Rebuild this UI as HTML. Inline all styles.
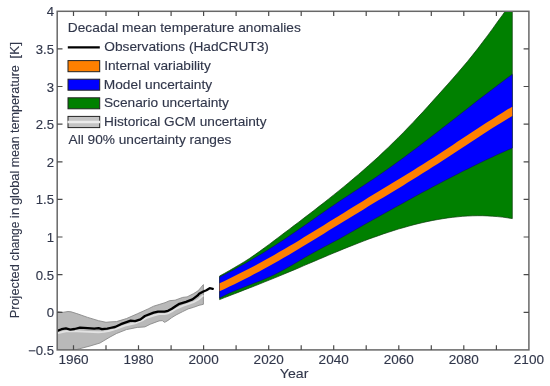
<!DOCTYPE html>
<html><head><meta charset="utf-8"><title>Decadal mean temperature anomalies</title>
<style>html,body{margin:0;padding:0;background:#fff}</style></head>
<body>
<svg width="550" height="386" viewBox="0 0 550 386" style="display:block;font-family:'Liberation Sans',sans-serif">
<style>text{stroke:#30364a;stroke-width:0.12px;paint-order:stroke}</style>
<rect width="550" height="386" fill="#fff"/>
<defs><clipPath id="c"><rect x="57.2" y="11.3" width="471.7" height="338.6"/></clipPath></defs>
<g clip-path="url(#c)">
<polygon points="56.8,311.5 62.6,312.4 68.0,311.5 71.0,311.8 76.8,313.6 87.7,317.4 98.6,320.7 106.0,322.3 110.0,321.9 116.5,321.6 126.4,318.6 137.3,313.8 148.2,308.9 153.6,306.2 159.1,304.5 165.0,302.7 169.6,300.7 175.1,300.2 182.7,297.4 187.1,296.9 193.6,293.6 198.0,290.9 203.4,284.6 203.4,304.3 199.1,305.3 193.6,307.3 188.2,308.9 182.7,311.6 176.0,315.0 171.8,317.6 168.0,320.4 165.3,322.0 164.5,322.3 162.3,320.6 159.1,320.9 150.3,324.2 144.9,326.9 137.3,327.4 126.4,329.6 116.5,333.5 110.0,337.0 100.0,343.0 90.0,346.0 76.0,349.7 56.8,352.0" fill="#b9b9b9" stroke="#8a8a8a" stroke-width="0.9"/>
<polyline points="57.0,333.0 66.0,331.0 77.0,331.0 88.0,331.6 98.6,332.0 104.0,331.6 109.5,330.5 116.0,328.5 125.0,325.2 135.0,323.0 142.7,319.8 146.0,317.8 153.6,315.2 159.0,313.8 164.5,313.8 168.0,313.0 171.8,311.0 177.0,308.0 182.7,305.6 193.6,301.8 198.0,299.5 203.4,295.0" fill="none" stroke="#e2e2e2" stroke-width="1.9" transform="translate(0,0.3)"/>
<polyline points="57.2,331.0 61.5,329.2 65.9,328.4 70.3,329.7 74.6,329.0 80.0,327.6 87.7,328.1 94.3,328.6 98.6,328.1 101.9,329.2 107.3,328.6 110.0,328.0 115.0,327.0 120.9,324.2 130.7,320.6 135.1,321.2 140.5,319.3 144.9,316.0 153.6,312.7 158.0,311.6 164.5,311.7 168.0,310.8 171.8,308.8 175.5,306.2 179.4,303.8 186.0,301.8 192.5,299.4 197.7,295.4 199.1,293.8 203.4,291.5 206.4,290.2 209.7,288.2 212.8,288.8" fill="none" stroke="#000" stroke-width="2.3" stroke-linejoin="round" stroke-linecap="round"/>
<polygon points="219.6,276.0 224.6,273.3 229.5,270.5 234.5,267.6 239.4,264.7 244.4,261.7 249.4,258.5 254.3,255.1 259.3,251.6 264.2,248.0 269.2,244.4 274.2,240.6 279.1,236.9 284.1,233.1 289.1,229.4 294.0,225.6 299.0,221.9 303.9,218.1 308.9,214.3 313.9,210.5 318.8,206.6 323.8,202.8 328.7,198.9 333.7,194.9 338.7,190.9 343.6,186.9 348.6,182.8 353.5,178.6 358.5,174.4 363.5,170.1 368.4,165.7 373.4,161.3 378.4,156.8 383.3,152.1 388.3,147.4 393.2,142.6 398.2,137.7 403.2,132.7 408.1,127.6 413.1,122.4 418.0,117.1 423.0,111.8 428.0,106.3 432.9,100.8 437.9,95.3 442.8,89.8 447.8,84.2 452.8,78.6 457.7,72.9 462.7,67.1 467.7,61.2 472.6,55.1 477.6,48.8 482.5,42.3 487.5,35.7 492.5,28.9 497.4,22.0 502.4,15.2 507.3,8.3 512.3,1.5 512.3,218.6 507.3,217.8 502.4,217.1 497.4,216.6 492.5,216.2 487.5,215.9 482.5,215.7 477.6,215.7 472.6,215.8 467.7,216.0 462.7,216.3 457.7,216.8 452.8,217.3 447.8,217.9 442.8,218.7 437.9,219.5 432.9,220.4 428.0,221.4 423.0,222.5 418.0,223.7 413.1,224.9 408.1,226.3 403.2,227.7 398.2,229.1 393.2,230.7 388.3,232.3 383.3,233.9 378.4,235.7 373.4,237.4 368.4,239.2 363.5,241.1 358.5,243.0 353.5,245.0 348.6,246.9 343.6,248.9 338.7,251.0 333.7,253.0 328.7,255.1 323.8,257.2 318.8,259.3 313.9,261.4 308.9,263.5 303.9,265.6 299.0,267.8 294.0,269.9 289.1,271.9 284.1,274.0 279.1,276.1 274.2,278.1 269.2,280.1 264.2,282.1 259.3,284.1 254.3,286.1 249.4,288.0 244.4,289.9 239.4,291.9 234.5,293.8 229.5,295.7 224.6,297.6 219.6,299.6" fill="#008000" stroke="#0a3a0a" stroke-width="0.7"/>
<polygon points="219.6,277.2 224.6,274.6 229.5,272.0 234.5,269.4 239.4,266.6 244.4,263.9 249.4,261.0 254.3,258.1 259.3,255.2 264.2,252.2 269.2,249.1 274.2,245.9 279.1,242.7 284.1,239.5 289.1,236.1 294.0,232.7 299.0,229.3 303.9,225.9 308.9,222.4 313.9,218.9 318.8,215.4 323.8,212.0 328.7,208.6 333.7,205.2 338.7,201.8 343.6,198.5 348.6,195.3 353.5,192.0 358.5,188.8 363.5,185.6 368.4,182.3 373.4,179.0 378.4,175.6 383.3,172.2 388.3,168.7 393.2,165.2 398.2,161.6 403.2,158.0 408.1,154.3 413.1,150.6 418.0,146.9 423.0,143.1 428.0,139.3 432.9,135.5 437.9,131.7 442.8,127.8 447.8,123.9 452.8,120.1 457.7,116.2 462.7,112.3 467.7,108.4 472.6,104.5 477.6,100.6 482.5,96.8 487.5,93.0 492.5,89.2 497.4,85.4 502.4,81.7 507.3,78.0 512.3,74.4 512.3,148.0 507.3,150.2 502.4,152.4 497.4,154.6 492.5,156.9 487.5,159.2 482.5,161.6 477.6,164.0 472.6,166.4 467.7,168.9 462.7,171.3 457.7,173.9 452.8,176.4 447.8,179.0 442.8,181.6 437.9,184.2 432.9,186.8 428.0,189.5 423.0,192.1 418.0,194.8 413.1,197.5 408.1,200.2 403.2,203.0 398.2,205.7 393.2,208.4 388.3,211.2 383.3,213.9 378.4,216.7 373.4,219.5 368.4,222.3 363.5,225.1 358.5,227.9 353.5,230.8 348.6,233.6 343.6,236.4 338.7,239.2 333.7,241.8 328.7,244.5 323.8,247.1 318.8,249.7 313.9,252.4 308.9,255.2 303.9,258.1 299.0,261.0 294.0,263.9 289.1,266.8 284.1,269.6 279.1,272.2 274.2,274.7 269.2,277.0 264.2,279.2 259.3,281.2 254.3,283.1 249.4,285.0 244.4,286.9 239.4,288.9 234.5,290.9 229.5,293.1 224.6,295.4 219.6,298.0" fill="#0000ff" stroke="#101060" stroke-width="0.6"/>
<polygon points="219.6,283.2 224.6,280.9 229.5,278.5 234.5,276.0 239.4,273.5 244.4,271.0 249.4,268.5 254.3,265.9 259.3,263.2 264.2,260.5 269.2,257.8 274.2,255.0 279.1,252.1 284.1,249.3 289.1,246.3 294.0,243.4 299.0,240.4 303.9,237.3 308.9,234.3 313.9,231.3 318.8,228.2 323.8,225.2 328.7,222.1 333.7,219.0 338.7,216.0 343.6,212.9 348.6,209.8 353.5,206.8 358.5,203.7 363.5,200.7 368.4,197.6 373.4,194.6 378.4,191.6 383.3,188.6 388.3,185.6 393.2,182.6 398.2,179.5 403.2,176.5 408.1,173.5 413.1,170.4 418.0,167.3 423.0,164.2 428.0,161.0 432.9,157.9 437.9,154.7 442.8,151.4 447.8,148.2 452.8,144.9 457.7,141.6 462.7,138.3 467.7,135.1 472.6,131.8 477.6,128.5 482.5,125.3 487.5,122.1 492.5,118.9 497.4,115.8 502.4,112.7 507.3,109.6 512.3,106.7 512.3,116.0 507.3,118.9 502.4,122.0 497.4,125.0 492.5,128.1 487.5,131.3 482.5,134.5 477.6,137.7 472.6,140.9 467.7,144.2 462.7,147.4 457.7,150.7 452.8,153.9 447.8,157.2 442.8,160.4 437.9,163.7 432.9,166.8 428.0,170.0 423.0,173.1 418.0,176.2 413.1,179.3 408.1,182.3 403.2,185.4 398.2,188.4 393.2,191.4 388.3,194.4 383.3,197.4 378.4,200.3 373.4,203.3 368.4,206.3 363.5,209.4 358.5,212.4 353.5,215.4 348.6,218.5 343.6,221.5 338.7,224.5 333.7,227.6 328.7,230.6 323.8,233.7 318.8,236.7 313.9,239.8 308.9,242.8 303.9,245.8 299.0,248.8 294.0,251.8 289.1,254.7 284.1,257.6 279.1,260.5 274.2,263.3 269.2,266.1 264.2,268.8 259.3,271.5 254.3,274.1 249.4,276.7 244.4,279.2 239.4,281.7 234.5,284.2 229.5,286.6 224.6,289.0 219.6,291.3" fill="#ff8000"/>
</g>
<rect x="57.2" y="11.3" width="471.7" height="338.6" fill="none" stroke="#686868" stroke-width="1.5"/>
<path d="M73.5 349.9v-4.6M73.5 11.3v4.6M106.0 349.9v-4.6M106.0 11.3v4.6M138.5 349.9v-4.6M138.5 11.3v4.6M171.1 349.9v-4.6M171.1 11.3v4.6M203.6 349.9v-4.6M203.6 11.3v4.6M236.1 349.9v-4.6M236.1 11.3v4.6M268.7 349.9v-4.6M268.7 11.3v4.6M301.2 349.9v-4.6M301.2 11.3v4.6M333.7 349.9v-4.6M333.7 11.3v4.6M366.2 349.9v-4.6M366.2 11.3v4.6M398.8 349.9v-4.6M398.8 11.3v4.6M431.3 349.9v-4.6M431.3 11.3v4.6M463.8 349.9v-4.6M463.8 11.3v4.6M496.4 349.9v-4.6M496.4 11.3v4.6M57.2 312.3h5.3M528.9 312.3h-5.3M57.2 274.7h5.3M528.9 274.7h-5.3M57.2 237.0h5.3M528.9 237.0h-5.3M57.2 199.4h5.3M528.9 199.4h-5.3M57.2 161.8h5.3M528.9 161.8h-5.3M57.2 124.2h5.3M528.9 124.2h-5.3M57.2 86.5h5.3M528.9 86.5h-5.3M57.2 48.9h5.3M528.9 48.9h-5.3" stroke="#4a4a4a" stroke-width="1.2" fill="none"/>
<text x="73.5" y="364.1" font-size="12.3" text-anchor="middle" textLength="30.2" lengthAdjust="spacingAndGlyphs" fill="#30364a">1960</text>
<text x="138.5" y="364.1" font-size="12.3" text-anchor="middle" textLength="30.2" lengthAdjust="spacingAndGlyphs" fill="#30364a">1980</text>
<text x="203.6" y="364.1" font-size="12.3" text-anchor="middle" textLength="30.2" lengthAdjust="spacingAndGlyphs" fill="#30364a">2000</text>
<text x="268.7" y="364.1" font-size="12.3" text-anchor="middle" textLength="30.2" lengthAdjust="spacingAndGlyphs" fill="#30364a">2020</text>
<text x="333.7" y="364.1" font-size="12.3" text-anchor="middle" textLength="30.2" lengthAdjust="spacingAndGlyphs" fill="#30364a">2040</text>
<text x="398.8" y="364.1" font-size="12.3" text-anchor="middle" textLength="30.2" lengthAdjust="spacingAndGlyphs" fill="#30364a">2060</text>
<text x="463.8" y="364.1" font-size="12.3" text-anchor="middle" textLength="30.2" lengthAdjust="spacingAndGlyphs" fill="#30364a">2080</text>
<text x="528.9" y="364.1" font-size="12.3" text-anchor="middle" textLength="30.2" lengthAdjust="spacingAndGlyphs" fill="#30364a">2100</text>
<text x="54.0" y="354.9" font-size="12.3" text-anchor="end" textLength="26.06" lengthAdjust="spacingAndGlyphs" fill="#30364a">−0.5</text>
<text x="54.0" y="317.3" font-size="12.3" text-anchor="end" textLength="7.34" lengthAdjust="spacingAndGlyphs" fill="#30364a">0</text>
<text x="54.0" y="279.7" font-size="12.3" text-anchor="end" textLength="18.35" lengthAdjust="spacingAndGlyphs" fill="#30364a">0.5</text>
<text x="54.0" y="242.0" font-size="12.3" text-anchor="end" textLength="7.34" lengthAdjust="spacingAndGlyphs" fill="#30364a">1</text>
<text x="54.0" y="204.4" font-size="12.3" text-anchor="end" textLength="18.35" lengthAdjust="spacingAndGlyphs" fill="#30364a">1.5</text>
<text x="54.0" y="166.8" font-size="12.3" text-anchor="end" textLength="7.34" lengthAdjust="spacingAndGlyphs" fill="#30364a">2</text>
<text x="54.0" y="129.2" font-size="12.3" text-anchor="end" textLength="18.35" lengthAdjust="spacingAndGlyphs" fill="#30364a">2.5</text>
<text x="54.0" y="91.5" font-size="12.3" text-anchor="end" textLength="7.34" lengthAdjust="spacingAndGlyphs" fill="#30364a">3</text>
<text x="54.0" y="53.9" font-size="12.3" text-anchor="end" textLength="18.35" lengthAdjust="spacingAndGlyphs" fill="#30364a">3.5</text>
<text x="54.0" y="16.3" font-size="12.3" text-anchor="end" textLength="7.34" lengthAdjust="spacingAndGlyphs" fill="#30364a">4</text>
<text x="279.82" y="377.80" font-size="12.20" textLength="28.57" lengthAdjust="spacingAndGlyphs" fill="#30364a">Year</text>
<text transform="translate(19.20,318.33) rotate(-90)" font-size="13.70" textLength="54.15" lengthAdjust="spacingAndGlyphs" fill="#30364a">Projected</text>
<text transform="translate(19.20,260.78) rotate(-90)" font-size="13.70" textLength="39.11" lengthAdjust="spacingAndGlyphs" fill="#30364a">change</text>
<text transform="translate(19.20,218.22) rotate(-90)" font-size="13.70" textLength="10.58" lengthAdjust="spacingAndGlyphs" fill="#30364a">in</text>
<text transform="translate(19.20,205.12) rotate(-90)" font-size="13.70" textLength="34.52" lengthAdjust="spacingAndGlyphs" fill="#30364a">global</text>
<text transform="translate(19.20,167.34) rotate(-90)" font-size="13.70" textLength="30.94" lengthAdjust="spacingAndGlyphs" fill="#30364a">mean</text>
<text transform="translate(19.20,132.93) rotate(-90)" font-size="13.70" textLength="67.78" lengthAdjust="spacingAndGlyphs" fill="#30364a">temperature</text>
<text transform="translate(19.20,58.77) rotate(-90)" font-size="13.70" textLength="16.91" lengthAdjust="spacingAndGlyphs" fill="#30364a">[K]</text>
<text x="67.80" y="31.80" font-size="12.20" textLength="233.01" lengthAdjust="spacingAndGlyphs" fill="#30364a">Decadal mean temperature anomalies</text>
<text x="104.25" y="51.30" font-size="12.20" textLength="164.68" lengthAdjust="spacingAndGlyphs" fill="#30364a">Observations (HadCRUT3)</text>
<text x="104.17" y="70.00" font-size="12.20" textLength="106.58" lengthAdjust="spacingAndGlyphs" fill="#30364a">Internal variability</text>
<text x="103.80" y="88.50" font-size="12.20" textLength="108.40" lengthAdjust="spacingAndGlyphs" fill="#30364a">Model uncertainty</text>
<text x="103.95" y="107.00" font-size="12.20" textLength="125.05" lengthAdjust="spacingAndGlyphs" fill="#30364a">Scenario uncertainty</text>
<text x="104.11" y="125.60" font-size="12.20" textLength="162.39" lengthAdjust="spacingAndGlyphs" fill="#30364a">Historical GCM uncertainty</text>
<text x="68.50" y="144.30" font-size="12.20" textLength="162.91" lengthAdjust="spacingAndGlyphs" fill="#30364a">All 90% uncertainty ranges</text>
<line x1="67.8" y1="47.3" x2="99.8" y2="47.3" stroke="#000" stroke-width="2.3"/>
<rect x="68" y="60.6" width="31.7" height="11.1" fill="#ff8000" stroke="#222" stroke-width="1"/>
<rect x="68" y="79.2" width="31.7" height="11.0" fill="#0000ff" stroke="#222" stroke-width="1"/>
<rect x="68" y="97.8" width="31.7" height="11.0" fill="#008000" stroke="#222" stroke-width="1"/>
<rect x="68" y="116.4" width="31.7" height="11.2" fill="#c4c4c4" stroke="#222" stroke-width="1"/>
<line x1="67.5" y1="122" x2="100.2" y2="122" stroke="#ececec" stroke-width="2.3"/>
</svg>
</body></html>
